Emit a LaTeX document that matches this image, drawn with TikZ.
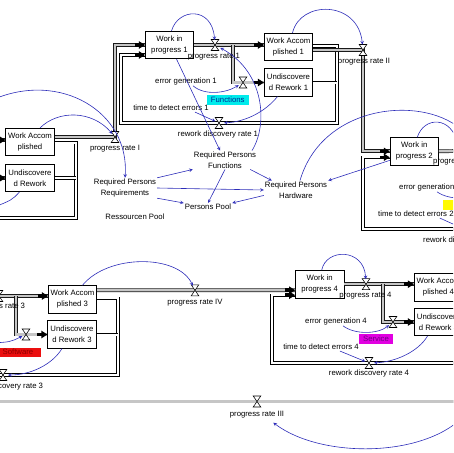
\documentclass[tikz,border=0pt]{standalone}
\usepackage{fontspec}
\setmainfont{Liberation Sans}
\definecolor{linkblue}{RGB}{45,45,185}
\definecolor{funccyan}{RGB}{0,235,235}
\definecolor{functext}{RGB}{0,40,150}
\definecolor{swred}{RGB}{235,15,15}
\definecolor{swtext}{RGB}{140,0,0}
\definecolor{svmagenta}{RGB}{225,0,225}
\definecolor{svtext}{RGB}{110,0,130}
\definecolor{hwyellow}{RGB}{255,250,0}
\newcommand{\sdfont}{\fontsize{7.75}{10.8}\selectfont}
\tikzset{
  stock/.style={draw, fill=white, line width=0.6pt, minimum width=48.5pt, minimum height=27.5pt, inner sep=0pt, align=center},
  pipe/.style={draw=black!90, line width=0.7pt, double=gray!45, double distance=2.3pt},
  rpipe/.style={draw=black, line width=0.6pt, double=white, double distance=2pt},
  link/.style={draw=linkblue, line width=0.6pt, ->},
  hilite/.style={inner xsep=4pt, inner ysep=0.8pt, text height=5.8pt, text depth=1.8pt},
  valve/.pic={\draw[line width=0.55pt, fill=white] (-3.8,-5.5)--(3.8,-5.5)--(-3.8,5.5)--(3.8,5.5)--cycle;},
  flowtip/.pic={\fill[black] (-10,-1.8) rectangle (-5,1.8); \fill[black] (-6,-3.8)--(0,0)--(-6,3.8)--cycle;}
}
\begin{document}
\begin{tikzpicture}[x=1pt, y=-1pt, >=stealth, font=\sdfont, inner sep=1pt]
\useasboundingbox (0,0) rectangle (453,453);
\clip (0,0) rectangle (453,453);

% valves and free ends
\coordinate (inzero) at (-10,140);
\coordinate (inurzero) at (-10,178);
\coordinate (loopzero) at (76,218);
\coordinate (rdzeroend) at (-10,218);
\coordinate (prI) at (115,137);
\coordinate (prone) at (215,45);
\coordinate (egonebranch) at (233,45);
\coordinate (egone) at (243,82.5);
\coordinate (rdone) at (219,123);
\coordinate (loopone) at (337,123);
\coordinate (backone) at (121,55);
\coordinate (prII) at (363,50);
\coordinate (prtwo) at (459,151);
\coordinate (egtwo) at (487,188);
\coordinate (rdtwo) at (464,229);
\coordinate (rdtwoend) at (480,229);
\coordinate (looptwo) at (363,229);
\coordinate (inthree) at (-10,296);
\coordinate (prthree) at (-1,296);
\coordinate (egthreebranch) at (16,296);
\coordinate (egthree) at (26,334.5);
\coordinate (rdthree) at (3,375);
\coordinate (loopthree) at (118,375);
\coordinate (rdthreeend) at (-10,375);
\coordinate (prIV) at (195,290.3);
\coordinate (prfour) at (366,284.2);
\coordinate (egfourbranch) at (383,284.2);
\coordinate (egfour) at (393,322);
\coordinate (rdfour) at (369,363);
\coordinate (rdfourend) at (460,363);
\coordinate (loopfour) at (272,363);
\coordinate (botleft) at (-10,401.5);
\coordinate (prIII) at (257,401.5);
\coordinate (botright) at (463,401.5);
\coordinate (lzsrc) at (-8,100);
\coordinate (lzsink) at (-8,208);
\coordinate (hwsink) at (462,130);
\coordinate (prthreesrc) at (-12,270);
\coordinate (egthreesrc) at (-8,343);
\coordinate (prIIIsrc) at (462,418);

% stocks
\node[stock] (WAPzero) at (30,142) {Work Accom\\plished};
\node[stock] (URzero) at (30,178) {Undiscovere\\d Rework};
\node[stock] (WIPone) at (169.5,45) {Work in\\progress 1};
\node[stock] (WAPone) at (288.5,47) {Work Accom\\plished 1};
\node[stock] (URone) at (288.5,82.5) {Undiscovere\\d Rework 1};
\node[stock] (WIPtwo) at (414.3,151.3) {Work in\\progress 2};
\node[stock] (WAPthree) at (72.5,299.3) {Work Accom\\plished 3};
\node[stock] (URthree) at (72,334.5) {Undiscovere\\d Rework 3};
\node[stock] (WIPfour) at (319.7,284.2) {Work in\\progress 4};
\node[stock] (WAPfour) at (438.5,287.2) {Work Accom\\plished 4};
\node[stock] (URfour) at (438.5,322) {Undiscovere\\d Rework 4};

% pipes
\draw[pipe] (inzero) -- ([yshift=2pt]WAPzero.west);
\draw[pipe] (inurzero) -- (URzero.west);
\draw[rpipe] ([yshift=-0.5pt]WAPzero.east) -| (loopzero) -- (rdzeroend);
\draw[rpipe] (URzero.east) -- (URzero.east -| loopzero);
\draw[pipe] ([yshift=5pt]WAPzero.east) -- (prI) |- (WIPone.west);
\draw[rpipe] ([yshift=1pt]WAPone.east) -| (loopone) -| (backone) -- ([yshift=-10pt]WIPone.west);
\draw[rpipe] (URone.east) -- (URone.east -| loopone);
\draw[pipe] (WIPone.east) -- (prone) -- (WAPone.west |- prone);
\draw[pipe] (egonebranch) |- (URone.west);
\draw[rpipe] (rdtwoend) -- (looptwo) |- ([yshift=-6pt]WIPtwo.west);
\draw[pipe] ([yshift=-3pt]WAPone.east) -- (prII) |- (WIPtwo.west);
\draw[pipe] (WIPtwo.east) -- (prtwo);
\draw[pipe] (inthree) -- (prthree) -- ([yshift=3.3pt]WAPthree.west);
\draw[pipe] (egthreebranch) |- (URthree.west);
\draw[rpipe] ([yshift=1pt]WAPthree.east) -| (loopthree) -- (rdthreeend);
\draw[rpipe] (URthree.east) -- (URthree.east -| loopthree);
\draw[pipe] ([yshift=9pt]WAPthree.east) -- (prIV) -- ([yshift=-6pt]WIPfour.west);
\draw[rpipe] (rdfourend) -- (loopfour) |- ([yshift=-11pt]WIPfour.west);
\draw[pipe] (WIPfour.east) -- (prfour) -- (WAPfour.west |- prfour);
\draw[pipe] (egfourbranch) |- (URfour.west);
\draw[pipe] (botleft) -- (prIII) -- (botright);

\pic at ([yshift=2pt]WAPzero.west) {flowtip};
\pic at (URzero.west) {flowtip};
\pic at (WIPone.west) {flowtip};
\pic at ([yshift=-10pt]WIPone.west) {flowtip};
\pic at (WAPone.west |- prone) {flowtip};
\pic at (URone.west) {flowtip};
\pic at (WIPtwo.west) {flowtip};
\pic at ([yshift=-6pt]WIPtwo.west) {flowtip};
\pic at ([yshift=3.3pt]WAPthree.west) {flowtip};
\pic at (URthree.west) {flowtip};
\pic at ([yshift=-6pt]WIPfour.west) {flowtip};
\pic at ([yshift=-11pt]WIPfour.west) {flowtip};
\pic at (WAPfour.west |- prfour) {flowtip};
\pic at (URfour.west) {flowtip};

\foreach \v in {prI,prone,egone,rdone,prII,prthree,egthree,rdthree,prIV,prfour,egfour,rdfour,prIII}
  \pic at (\v) {valve};

% labels
\node (prIlab) at (115,149) {progress rate I};
\node (pronelab) at (214,56.5) {progress rate 1};
\node (egonelab) at (186,81) {error generation 1};
\node[hilite, fill=funccyan, text=functext] (func) at (227.7,100) {Functions};
\node (tdonelab) at (171,108) {time to detect errors 1};
\node (rdonelab) at (218,134) {rework discovery rate 1};
\node (prIIlab) at (364,62) {progress rate II};
\node[align=center] (RPfun) at (225,160) {Required Persons\\Functions};
\node[align=center] (RPreq) at (125,188) {Required Persons\\Requirements};
\node[align=center] (RPhw) at (296,190) {Required Persons\\Hardware};
\node (pool) at (208,207) {Persons Pool};
\node (respool) at (135,217) {Ressourcen Pool};
\node[anchor=west] (egtwolab) at (398,187) {error generation 2};
\node[hilite, fill=hwyellow, anchor=west, minimum width=40pt] (hw) at (443,205) {};
\node[anchor=west] (tdtwolab) at (377,214) {time to detect errors 2};
\node[anchor=west] (rdtwolab) at (422,240) {rework discovery rate 2};
\node[anchor=west] (prtwolab) at (432,162) {progress rate 2};
\node (prthreelab) at (-1,307) {progress rate 3};
\node[hilite, fill=swred, text=swtext, minimum width=46pt] (sw) at (18,352.7) {Software};
\node (rdthreelab) at (3,386) {rework discovery rate 3};
\node (prIVlab) at (195,303) {progress rate IV};
\node (prfourlab) at (365.5,296) {progress rate 4};
\node (egfourlab) at (336,321) {error generation 4};
\node[hilite, fill=svmagenta, text=svtext] (sv) at (376,339) {Service};
\node (tdfourlab) at (321,347) {time to detect errors 4};
\node (rdfourlab) at (369,373.5) {rework discovery rate 4};
\node (prIIIlab) at (257,415) {progress rate III};

% information links
\draw[link] (lzsrc) .. controls (60,70) and (130,112) .. (RPreq.north);
\draw[link, shorten >=4pt] ([xshift=10pt]WAPzero.north) .. controls (58,110) and (92,110) .. (prI);
\draw[link, -] ([xshift=14pt]URzero.south west) .. controls (12,200) .. (lzsink);
\draw[link, shorten >=5pt] ([xshift=2pt]WIPone.north) .. controls (178,8) and (212,6) .. (prone);
\draw[link] ([xshift=7pt]WIPone.south) -- ([xshift=-5pt]RPfun.north);
\draw[link, shorten >=5pt] ([xshift=7pt]egonelab.south) .. controls (205,96) and (226,93) .. (egone);
\draw[link, shorten >=4pt] ([xshift=-15pt]tdonelab.south east) -- (rdone);
\draw[link, shorten >=5pt] ([xshift=-11pt]URone.south) .. controls (265,112) and (245,122) .. (rdone);
\draw[link, shorten >=6pt] ([xshift=27pt]RPfun.north) .. controls (268,125) and (265,72) .. (prone);
\draw[link, shorten >=5.5pt] ([xshift=4pt]WAPone.north) .. controls (300,0) and (358,0) .. (prII);
\draw[link] (RPreq.north east) -- (RPfun.south west);
\draw[link] (RPreq.east) -- (RPhw.west);
\draw[link] (RPreq.south east) -- ([yshift=4pt]pool.west);
\draw[link] (RPfun.south) -- (pool.north);
\draw[link] ([xshift=-7pt]RPfun.south east) -- ([xshift=8pt]RPhw.north west);
\draw[link] ([yshift=4pt]RPhw.south west) -- ([yshift=4pt]pool.east);
\draw[link] ([yshift=5pt]WIPtwo.south west) -- (RPhw.north east);
\draw[link] ([xshift=4pt]RPhw.north) .. controls (322,105) and (420,95) .. (hwsink);
\draw[link, shorten >=5pt] ([xshift=3pt]WIPtwo.north) .. controls (424,116) and (452,116) .. (prtwo);
\draw[link, shorten >=5pt] ([xshift=7pt]egtwolab.south) .. controls (450,201) and (472,199) .. (egtwo);
\draw[link, shorten >=4pt] ([xshift=-15pt]tdtwolab.south east) -- (rdtwo);
\draw[link, shorten >=5pt] ([xshift=10pt]WAPthree.north) .. controls (108,254) and (178,254) .. (prIV);
\draw[link, shorten >=4pt] (prthreesrc) .. controls (-4,280) .. (prthree);
\draw[link, shorten >=4pt] (egthreesrc) .. controls (10,342) .. (egthree);
\draw[link, shorten >=5pt] ([xshift=-10pt]URthree.south) .. controls (52,365) and (30,375) .. (rdthree);
\draw[link, shorten >=5pt] ([xshift=2pt]WIPfour.north) .. controls (326,248) and (364,248) .. (prfour);
\draw[link, shorten >=5pt] ([xshift=7pt]egfourlab.south) .. controls (355,335) and (378,334) .. (egfour);
\draw[link, shorten >=4pt] ([xshift=-20pt]tdfourlab.south east) -- (rdfour);
\draw[link, shorten >=5pt] ([xshift=-11pt]URfour.south) .. controls (418,352) and (395,362) .. (rdfour);
\draw[link] (prIIIsrc) .. controls (420,458) and (320,458) .. ([xshift=-12pt, yshift=-3pt]prIIIlab.south east);

\end{tikzpicture}
\end{document}
